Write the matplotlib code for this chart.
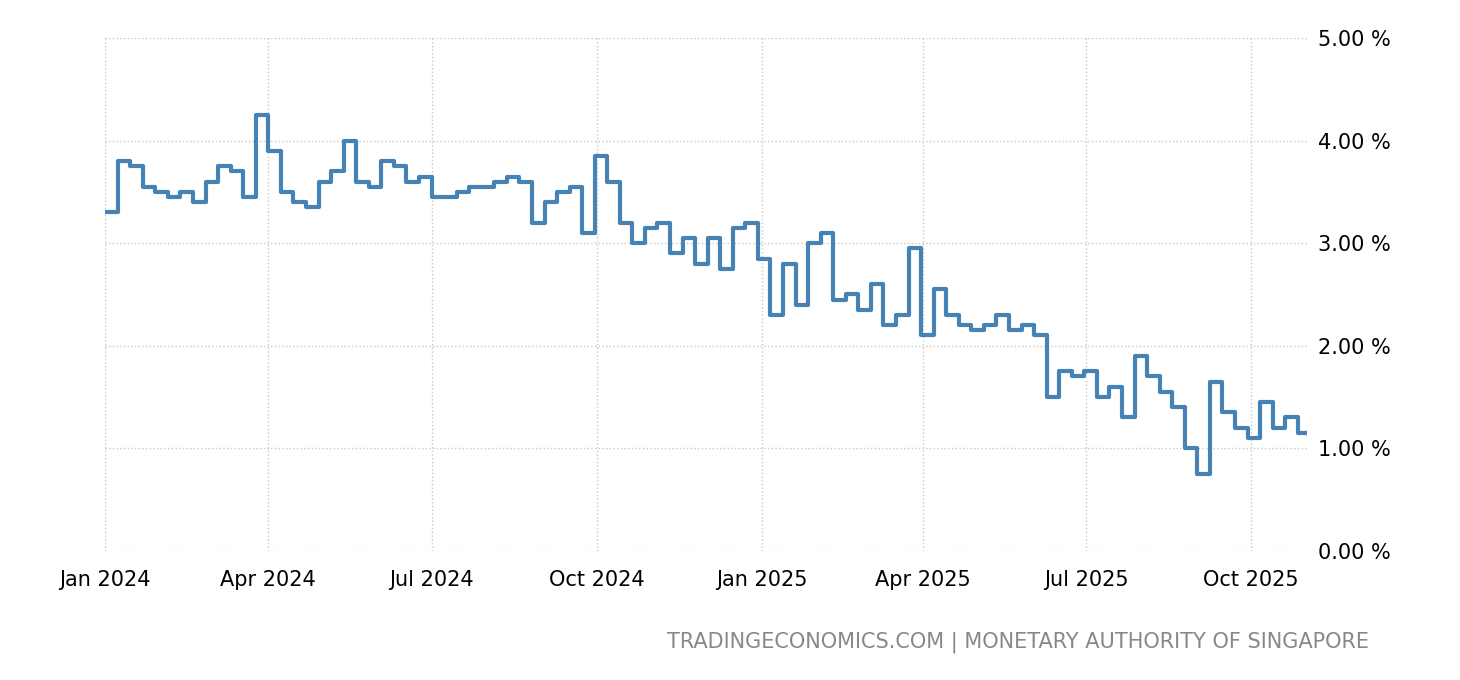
import matplotlib
matplotlib.use("Agg")
import matplotlib.pyplot as plt
import matplotlib.dates as mdates
import numpy as np
import pandas as pd

# weekly readings (percent), starting 2024-01-01
start = "2024-01-01"
rates = [
    3.30, 3.80, 3.75, 3.55, 3.50, 3.45, 3.50, 3.40, 3.60, 3.75,
    3.70, 3.45, 4.25, 3.90, 3.50, 3.40, 3.35, 3.60, 3.70, 4.00,
    3.60, 3.55, 3.80, 3.75, 3.60, 3.65, 3.45, 3.45, 3.50, 3.55,
    3.55, 3.60, 3.65, 3.60, 3.20, 3.40, 3.50, 3.55, 3.10, 3.85,
    3.60, 3.20, 3.00, 3.15, 3.20, 2.90, 3.05, 2.80, 3.05, 2.75,
    3.15, 3.20, 2.85, 2.30, 2.80, 2.40, 3.00, 3.10, 2.45, 2.50,
    2.35, 2.60, 2.20, 2.30, 2.95, 2.10, 2.55, 2.30, 2.20, 2.15,
    2.20, 2.30, 2.15, 2.20, 2.10, 1.50, 1.75, 1.70, 1.75, 1.50,
    1.60, 1.30, 1.90, 1.70, 1.55, 1.40, 1.00, 0.75, 1.65, 1.35,
    1.20, 1.10, 1.45, 1.20, 1.30, 1.15, 0.95,
]
dates = pd.date_range(start, periods=len(rates), freq="7D")

fig = plt.figure(figsize=(14.6, 6.8), dpi=100)
ax = fig.add_axes([0.072, 0.19, 0.823, 0.754])
ax.step(dates, rates, where="post", color="#4682b4", linewidth=3)

ax.set_ylim(0, 5)
ax.set_xlim(pd.Timestamp("2024-01-01"), pd.Timestamp("2025-11-01"))
ax.set_yticks(np.arange(0, 5.01, 1))
ax.set_yticklabels([f"{v:.2f} %" for v in np.arange(0, 5.01, 1)])
ax.yaxis.tick_right()
ax.xaxis.set_major_locator(mdates.MonthLocator(bymonth=[1, 4, 7, 10]))
ax.xaxis.set_major_formatter(mdates.DateFormatter("%b %Y"))
ax.tick_params(length=0, labelsize=15, colors="black")
ax.tick_params(axis="x", pad=14)
ax.tick_params(axis="y", pad=8)
ax.grid(True, color="#c8c8c8", linestyle=":", linewidth=1)
for s in ax.spines.values():
    s.set_visible(False)

fig.text(0.938, 0.055, "TRADINGECONOMICS.COM | MONETARY AUTHORITY OF SINGAPORE",
         ha="right", va="center", fontsize=15, color="#888888")

fig.savefig("out.png", dpi=100)
